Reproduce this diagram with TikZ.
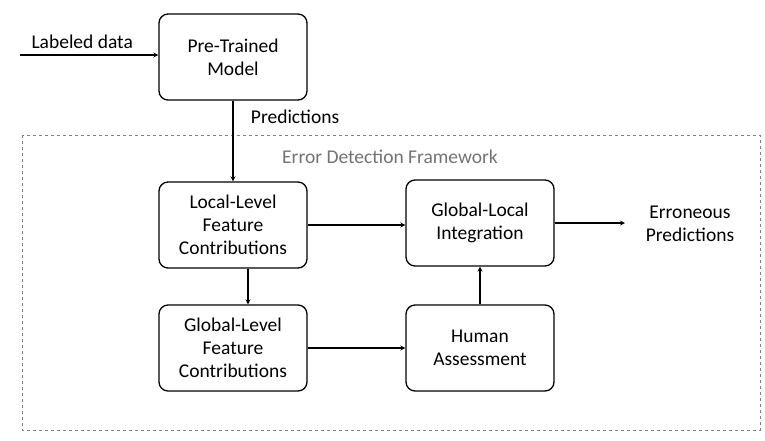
\documentclass[tikz,border=0pt]{standalone}
\usepackage{fontspec}
\setmainfont{Carlito}
\usetikzlibrary{positioning}
\begin{document}
\begin{tikzpicture}[x=1pt,y=-1pt,
    block/.style={draw, line width=1.3pt, rounded corners=9pt, minimum width=148pt, minimum height=86pt, align=center, font=\fontsize{19.5}{23}\selectfont},
    lbl/.style={align=center, font=\fontsize{19.5}{23}\selectfont},
    arr/.style={->, >=stealth, line width=1.2pt}]
    % Frame
    \useasboundingbox (0,0) rectangle (765,440);
    \draw[dashed, gray, line width=1pt] (22,135) rectangle (760,430);
    \node[lbl, text=gray!90!black] (frame) at (390,157) {Error Detection Framework};

    % Boxes
    \node[block] (pre) at (233,57) {Pre-Trained\\Model};
    \node[block] (local) at (233,225) {Local-Level\\Feature\\Contributions};
    \node[block] (global) at (233,348) {Global-Level\\Feature\\Contributions};
    \node[block] (integ) at (480,223) {Global-Local\\Integration};
    \node[block] (human) at (480,348) {Human\\Assessment};

    % Input and output
    \coordinate (in) at (20,55);
    \coordinate (out) at (625,223);
    \node[lbl, anchor=south west] (data) at (28,52) {Labeled data};
    \node[lbl] (err) at (690,224) {Erroneous\\Predictions};

    % Arrows
    \draw[arr] (in) -- (in -| pre.west);
    \draw[arr] (pre) -- (local) node[lbl, pos=0.2, anchor=west, xshift=14pt] {Predictions};
    \draw[arr] (local.south -| 248,0) -- (global.north -| 248,0);
    \draw[arr] (local.east) -- (local.east -| integ.west);
    \draw[arr] (global) -- (human);
    \draw[arr] (human) -- (integ);
    \draw[arr] (integ.east) -- (out);
\end{tikzpicture}
\end{document}
